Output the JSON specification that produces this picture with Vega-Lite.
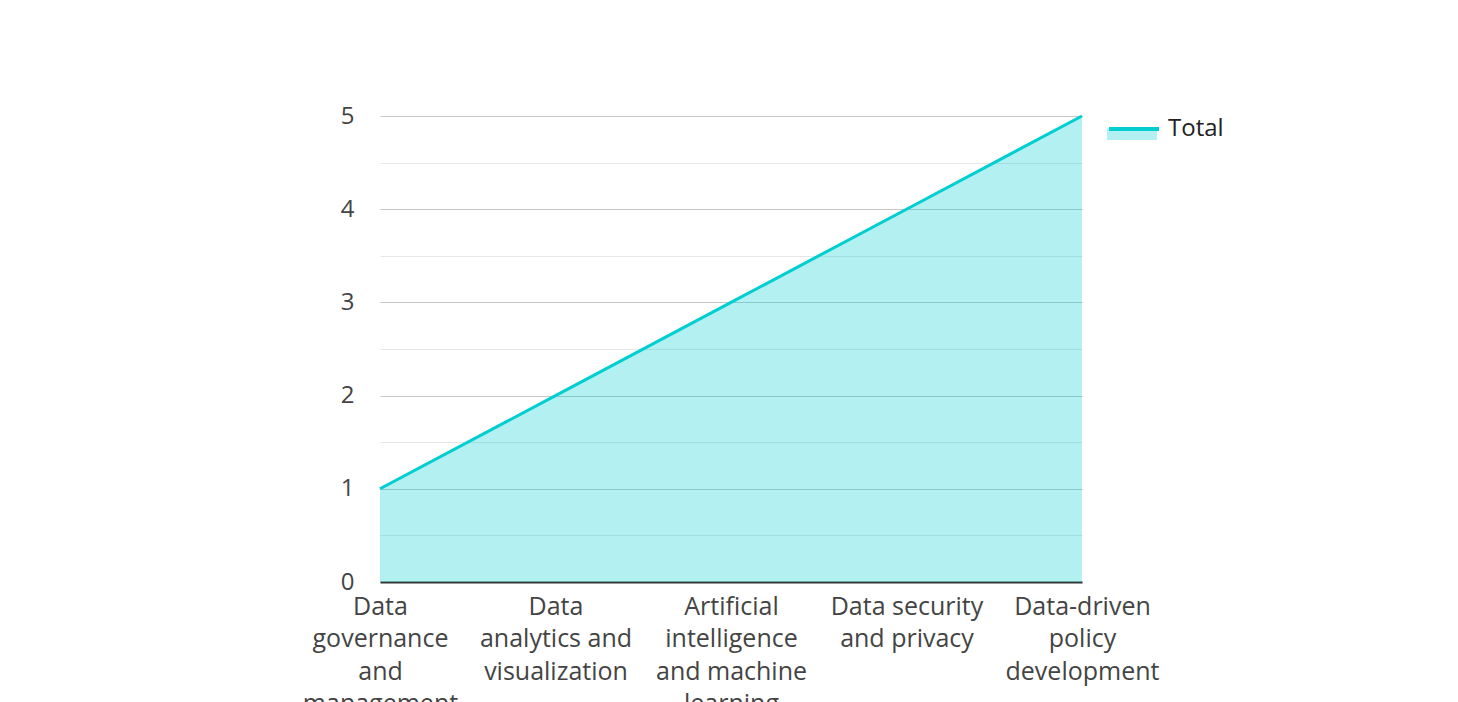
{
  "$schema": "https://vega.github.io/schema/vega-lite/v6.json",
  "width": 702,
  "height": 466,
  "autosize": {"type": "none"},
  "padding": {"left": 380, "top": 116, "right": 376, "bottom": 120},
  "background": "white",
  "config": {"view": {"stroke": null}, "font": "Open Sans"},
  "data": {
    "values": [
      {"topic": "Data governance and management", "total": 1},
      {"topic": "Data analytics and visualization", "total": 2},
      {"topic": "Artificial intelligence and machine learning", "total": 3},
      {"topic": "Data security and privacy", "total": 4},
      {"topic": "Data-driven policy development", "total": 5}
    ]
  },
  "encoding": {
    "x": {
      "field": "topic",
      "type": "ordinal",
      "sort": null,
      "scale": {"type": "point", "padding": 0},
      "axis": {
        "title": null,
        "labelAngle": 0,
        "ticks": false,
        "domainColor": "#333333",
        "domainWidth": 2,
        "labelFontSize": 25,
        "labelColor": "#444444",
        "labelLineHeight": 32.5,
        "labelPadding": 12,
        "labelAlign": "center",
        "labelExpr": "{'Data governance and management': ['Data','governance','and','management'], 'Data analytics and visualization': ['Data','analytics and','visualization'], 'Artificial intelligence and machine learning': ['Artificial','intelligence','and machine','learning'], 'Data security and privacy': ['Data security','and privacy'], 'Data-driven policy development': ['Data-driven','policy','development']}[datum.label]"
      }
    },
    "y": {
      "field": "total",
      "type": "quantitative",
      "scale": {"domain": [0, 5], "nice": false, "zero": true},
      "axis": {
        "title": null,
        "domain": false,
        "ticks": false,
        "values": [0, 0.5, 1, 1.5, 2, 2.5, 3, 3.5, 4, 4.5, 5],
        "labelExpr": "datum.value % 1 === 0 ? format(datum.value, 'd') : ''",
        "labelFontSize": 24,
        "labelColor": "#444444",
        "labelPadding": 26,
        "gridColor": {"condition": {"test": "datum.value % 1 !== 0", "value": "#e6e6e6"}, "value": "#c6c6c6"},
        "gridWidth": 1
      }
    }
  },
  "layer": [
    {
      "mark": {"type": "area", "fillOpacity": 0.3},
      "encoding": {
        "fill": {
          "datum": "Total area",
          "scale": {"range": ["#00CED1"]},
          "legend": {
            "orient": "none",
            "legendX": 727,
            "legendY": -14,
            "title": null,
            "padding": 0,
            "symbolType": "M-1,0.06H1V0.52H-1Z",
            "symbolSize": 2500,
            "symbolOpacity": 0.3,
            "symbolStrokeWidth": 0,
            "labelFontSize": 24,
            "labelOffset": 7,
            "labelExpr": "''"
          }
        }
      }
    },
    {
      "mark": {"type": "line", "strokeWidth": 3},
      "encoding": {
        "stroke": {
          "datum": "Total",
          "scale": {"range": ["#00CED1"]},
          "legend": {
            "orient": "none",
            "legendX": 727,
            "legendY": -14,
            "title": null,
            "padding": 0,
            "symbolType": "M-1,0H1",
            "symbolSize": 2500,
            "symbolStrokeWidth": 4,
            "labelFontSize": 24,
            "labelColor": "#222222",
            "labelOffset": 7
          }
        }
      }
    }
  ]
}
